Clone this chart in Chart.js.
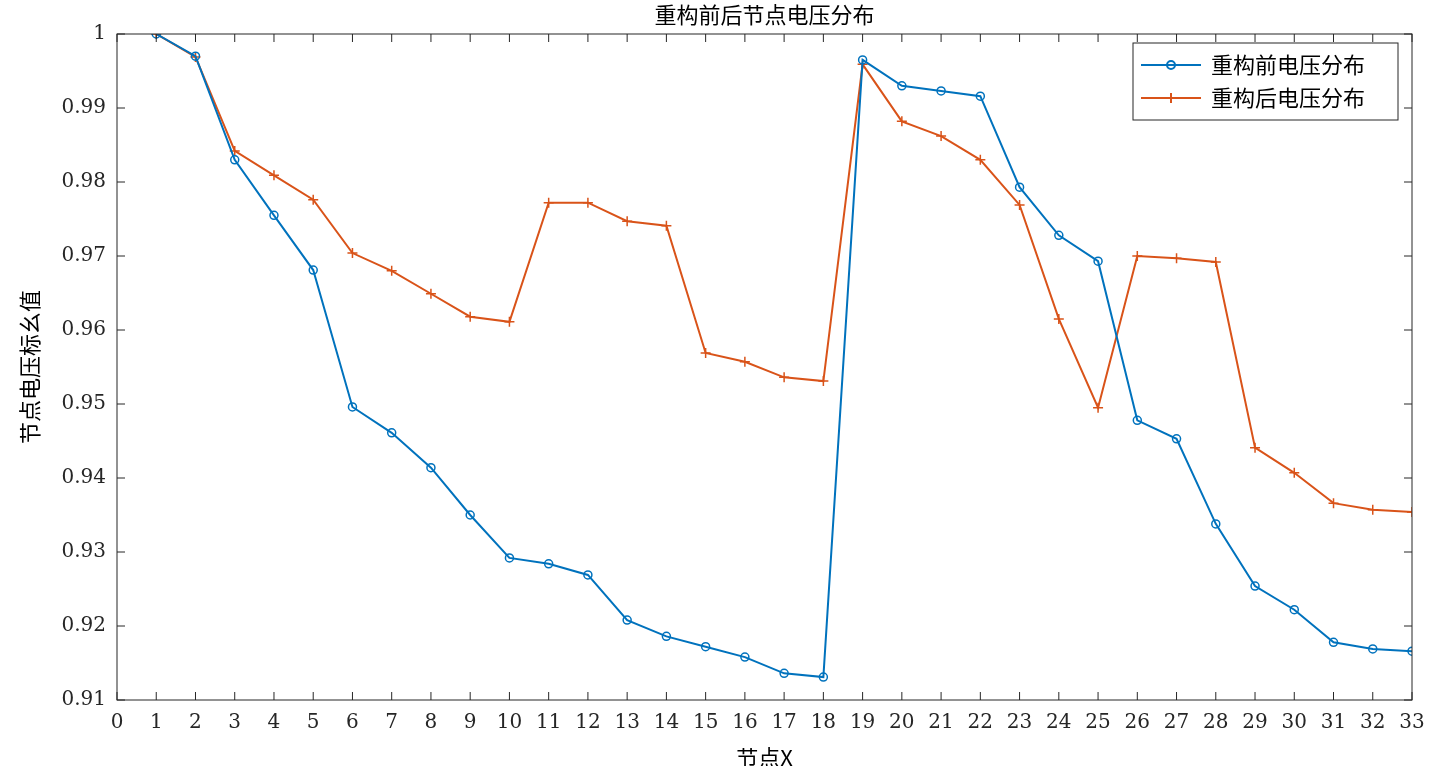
<!DOCTYPE html>
<html><head><meta charset="utf-8">
<script src="https://cdn.jsdelivr.net/npm/chart.js@4/dist/chart.umd.min.js"></script>
<style>html,body{margin:0;padding:0;background:#fff}#c{display:block}</style>
</head><body><canvas id="c" width="1440" height="766"></canvas>
<script>
const nodes = Array.from({length:33},(_,i)=>i+1);
const before = [1.0000,0.9970,0.9830,0.9755,0.9681,0.9496,0.9461,0.9414,0.9350,0.9292,0.9284,0.9269,0.9208,0.9186,0.9172,0.9158,0.9136,0.9131,0.9965,0.9930,0.9923,0.9916,0.9793,0.9728,0.9693,0.9478,0.9453,0.9338,0.9254,0.9222,0.9178,0.9169,0.9166];
const after = [1.0000,0.9969,0.9842,0.9809,0.9776,0.9704,0.9680,0.9649,0.9618,0.9611,0.9772,0.9772,0.9747,0.9741,0.9569,0.9557,0.9536,0.9531,0.9959,0.9882,0.9862,0.9830,0.9769,0.9615,0.9495,0.9700,0.9697,0.9692,0.9441,0.9407,0.9366,0.9357,0.9354];
const labels = ['重构前电压分布','重构后电压分布'];
const title = '重构前后节点电压分布';
const xTitle = '节点X', yTitle = '节点电压标幺值';
const numFont = "'DejaVu Serif', serif";
const cjk = "'Noto Sans CJK SC', sans-serif";
const boxPlugin = {id:'box', afterDraw(ch){
  const a=ch.chartArea, c=ch.ctx; c.save();
  c.strokeStyle='#262626'; c.lineWidth=1; c.strokeRect(a.left,a.top,a.right-a.left,a.bottom-a.top);
  // inward ticks
  const xs=ch.scales.x, ys=ch.scales.y;
  c.beginPath();
  for(let v=0;v<=33;v++){const px=xs.getPixelForValue(v);c.moveTo(px,a.bottom);c.lineTo(px,a.bottom-8);c.moveTo(px,a.top);c.lineTo(px,a.top+8);}
  for(let i=0;i<=9;i++){const py=ys.getPixelForValue(0.91+i*0.01);c.moveTo(a.left,py);c.lineTo(a.left+8,py);c.moveTo(a.right,py);c.lineTo(a.right-8,py);}
  c.stroke();
  c.fillStyle='#000'; c.font="22px "+cjk; c.textAlign='center'; c.textBaseline='middle';
  c.fillText(title,(a.left+a.right)/2,15);
  c.fillText(xTitle,(a.left+a.right)/2,758);
  c.save(); c.translate(30,(a.top+a.bottom)/2); c.rotate(-Math.PI/2); c.fillText(yTitle,0,0); c.restore();
  // legend
  const lx=1133, ly=43, lw=265, lh=77;
  c.fillStyle='#fff'; c.fillRect(lx,ly,lw,lh); c.strokeRect(lx,ly,lw,lh);
  ch.data.datasets.forEach((d,i)=>{
    const yy=ly+22+i*33;
    c.strokeStyle=d.borderColor; c.lineWidth=2; c.beginPath(); c.moveTo(lx+8,yy); c.lineTo(lx+68,yy); c.stroke();
    c.beginPath();
    if(i===0){c.arc(lx+38,yy,4,0,Math.PI*2);} else {c.moveTo(lx+33,yy);c.lineTo(lx+43,yy);c.moveTo(lx+38,yy-5);c.lineTo(lx+38,yy+5);}
    c.stroke();
    c.fillStyle='#000'; c.textAlign='left'; c.font="22px "+cjk; c.fillText(d.label,lx+78,yy);
  });
  c.restore();
}};
new Chart(document.getElementById('c'),{
  type:'line',
  data:{datasets:[
    {label:labels[0],data:nodes.map((n,i)=>({x:n,y:before[i]})),borderColor:'#0072BD',backgroundColor:'rgba(0,0,0,0)',borderWidth:2,pointStyle:'circle',pointRadius:4,pointBorderWidth:1.5,tension:0},
    {label:labels[1],data:nodes.map((n,i)=>({x:n,y:after[i]})),borderColor:'#D95319',backgroundColor:'#D95319',borderWidth:2,pointStyle:'cross',pointRadius:5,pointBorderWidth:1.5,tension:0}
  ]},
  options:{responsive:false,animation:false,
    layout:{padding:{left:0,right:28,top:34,bottom:0}},
    plugins:{legend:{display:false},title:{display:false},tooltip:{enabled:false}},
    scales:{
      x:{type:'linear',min:0,max:33,grid:{display:false},border:{display:false},
        ticks:{stepSize:1,color:'#262626',font:{family:numFont,size:20},maxRotation:0,autoSkip:false},
        afterFit(s){s.height=66;}},
      y:{min:0.91,max:1,grid:{display:false},border:{display:false},
        ticks:{stepSize:0.01,color:'#262626',font:{family:numFont,size:20},callback:v=>{const r=Math.round(v*100)/100;return r===1?'1':r.toFixed(2).replace(/0$/,'').replace(/^0\.9$/,'0.9');}},
        afterFit(s){s.width=117;}}
    }},
  plugins:[boxPlugin]
});
</script></body></html>
